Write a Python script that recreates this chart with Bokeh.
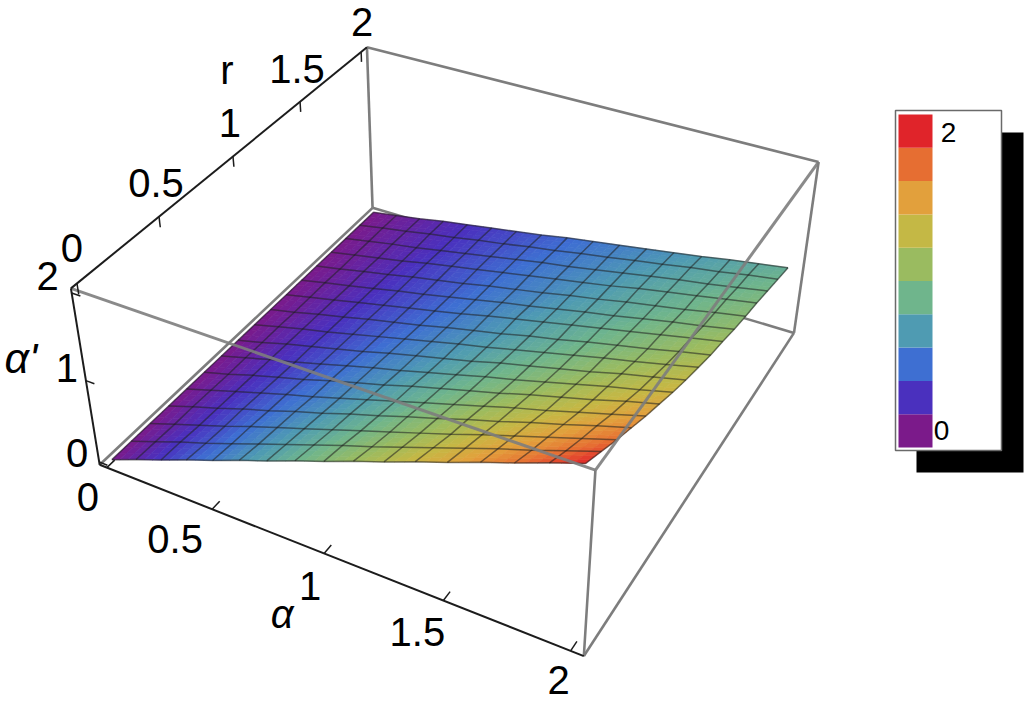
import numpy as np
from bokeh.plotting import figure
from bokeh.models import Range1d
from bokeh.core.properties import value
from bokeh.embed import file_html
from bokeh.resources import INLINE

# ---------- data ----------
alpha_nodes = [0, .125, .25, .375, .5, .625, .75, .875, 1, 1.125, 1.25, 1.375, 1.5, 1.625, 1.75, 1.875, 2]
r_nodes = [0, .125, .25, .375, .5, .625, .75, .875, 1, 1.125, 1.25, 1.375, 1.5, 1.625, 1.75, 1.875, 2]
# alpha' : one row per r node, one column per alpha node
alpha_prime = [
 [0,.13,.25,.38,.50,.63,.75,.88,1.00,1.13,1.25,1.38,1.50,1.63,1.75,1.88,2.00],
 [0,.12,.24,.35,.47,.59,.71,.83,.95,1.06,1.18,1.30,1.42,1.54,1.65,1.77,1.89],
 [0,.11,.22,.33,.45,.56,.67,.78,.89,1.00,1.11,1.22,1.34,1.45,1.56,1.67,1.78],
 [0,.11,.21,.32,.42,.53,.63,.74,.84,.95,1.05,1.16,1.26,1.37,1.47,1.58,1.68],
 [0,.10,.20,.30,.40,.49,.59,.69,.79,.89,.99,1.09,1.19,1.28,1.38,1.48,1.58],
 [0,.09,.19,.28,.37,.47,.56,.65,.75,.84,.93,1.02,1.12,1.21,1.30,1.40,1.49],
 [0,.09,.18,.26,.35,.44,.53,.61,.70,.79,.88,.96,1.05,1.14,1.23,1.31,1.40],
 [0,.08,.17,.25,.33,.41,.50,.58,.66,.74,.83,.91,.99,1.07,1.16,1.24,1.32],
 [0,.08,.16,.23,.31,.39,.47,.55,.63,.70,.78,.86,.94,1.02,1.09,1.17,1.25],
 [0,.07,.15,.22,.30,.37,.44,.52,.59,.66,.74,.81,.89,.96,1.03,1.11,1.18],
 [0,.07,.14,.21,.28,.35,.42,.49,.57,.64,.71,.78,.85,.92,.99,1.06,1.13],
 [0,.07,.13,.20,.27,.33,.40,.47,.54,.60,.67,.74,.80,.87,.94,1.00,1.07],
 [0,.06,.13,.19,.26,.32,.38,.45,.51,.57,.64,.70,.77,.83,.89,.96,1.02],
 [0,.06,.12,.18,.25,.31,.37,.43,.49,.55,.61,.67,.74,.80,.86,.92,.98],
 [0,.06,.12,.17,.23,.29,.35,.41,.47,.52,.58,.64,.70,.76,.81,.87,.93],
 [0,.06,.11,.17,.22,.28,.33,.39,.44,.50,.55,.61,.66,.72,.77,.83,.88],
 [0,.05,.10,.16,.21,.26,.31,.36,.42,.47,.52,.57,.62,.67,.73,.78,.83],
]
alpha_ticks = [0, .5, 1, 1.5, 2]
alpha_tick_labels = ["0", "0.5", "1", "1.5", "2"]
r_ticks = [0, .5, 1, 1.5, 2]
r_tick_labels = ["0", "0.5", "1", "1.5", "2"]
z_ticks = [0, 1, 2]
z_tick_labels = ["0", "1", "2"]
palette = ["#7B1A8A", "#4A30BE", "#3E6FD2", "#4F9BB2", "#6FB58C",
           "#9ABB60", "#C4B845", "#E2A03C", "#E66E32", "#E0242A"]
bar_labels = ["0", "2"]

# ---------- layout / camera ----------
LO, HI = -0.035, 2.05
CORNERS = [(LO,LO,LO),(HI,LO,LO),(HI,HI,LO),(LO,HI,LO),(LO,LO,HI),(HI,LO,HI),(HI,HI,HI),(LO,HI,HI)]
CAMERA_PX = [(98,463.5),(584,655),(793,334),(373,207),(71,289),(595,470),(818,160),(366,47)]
rows, rhs = [], []
for (x,y,z),(u,v) in zip(CORNERS, CAMERA_PX):
    rows.append([x,y,z,1,0,0,0,0,-u*x,-u*y,-u*z]); rhs.append(u)
    rows.append([0,0,0,0,x,y,z,1,-v*x,-v*y,-v*z]); rhs.append(v)
P = np.append(np.linalg.lstsq(np.array(rows,float), np.array(rhs,float), rcond=None)[0], 1).reshape(3,4)

def project(a, r, z):
    a, r, z = np.broadcast_arrays(np.asarray(a,float), np.asarray(r,float), np.asarray(z,float))
    h = P @ np.stack([a.ravel(), r.ravel(), z.ravel(), np.ones(a.size)])
    return (h[0]/h[2]).reshape(a.shape), (h[1]/h[2]).reshape(a.shape)

FS = "40px"
FONT = value("Liberation Sans")
GREY = "#7d7d7d"
AXIS = "#1c1c1c"

p = figure(width=1025, height=704, output_backend="svg", toolbar_location=None,
           x_range=Range1d(0, 1025), y_range=Range1d(704, 0),
           min_border=0, outline_line_color=None, background_fill_color="white")
p.axis.visible = False
p.grid.visible = False

def edge(c0, c1, color=GREY, width=2.6, alpha=1.0):
    xs, ys = project([CORNERS[c0][0], CORNERS[c1][0]], [CORNERS[c0][1], CORNERS[c1][1]], [CORNERS[c0][2], CORNERS[c1][2]])
    p.line(xs, ys, line_color=color, line_width=width, line_alpha=alpha)

# colour bar panel
p.quad(left=[916], right=[1023], top=[132], bottom=[472], fill_color="black", line_color=None)
p.quad(left=[895], right=[1001], top=[110], bottom=[450], fill_color="white", line_color="#6a6a6a", line_width=1.5)
BAR_TOP, BAR_BOTTOM = 114.0, 447.0
n = len(palette)
edges = [BAR_BOTTOM + (BAR_TOP-BAR_BOTTOM)*k/n for k in range(n+1)]
p.quad(left=[898]*n, right=[932]*n, bottom=edges[:-1], top=edges[1:], fill_color=palette, line_color=None)
p.text([941, 948], [430, 132], text=bar_labels, text_font=FONT, text_font_size="28px",
       text_align="center", text_baseline="middle", text_color="black")

# back edges of the box (behind the surface)
edge(3, 7); edge(0, 3); edge(3, 2); edge(7, 6)
edge(2, 6); edge(1, 2); edge(1, 5)

# surface
rgb = np.array([[int(c[k:k+2],16) for k in (1,3,5)] for c in palette], float)
def colour(z):
    t = np.clip(z/2.0, 0, 1)*(n-1)
    k = min(int(t), n-2); f = t-k
    v = rgb[k]*(1-f)+rgb[k+1]*f
    return "#%02x%02x%02x" % tuple(int(round(c)) for c in v)

A = np.array(alpha_nodes); R = np.array(r_nodes); Z = np.array(alpha_prime)
SUB = 3
xs, ys, cols = [], [], []
for j in range(len(R)-1):
    for i in range(len(A)-1):
        for sj in range(SUB):
            for si in range(SUB):
                u0, u1 = si/SUB, (si+1)/SUB
                v0, v1 = sj/SUB, (sj+1)/SUB
                uu = np.array([u0,u1,u1,u0]); vv = np.array([v0,v0,v1,v1])
                aa = A[i]+(A[i+1]-A[i])*uu
                rr = R[j]+(R[j+1]-R[j])*vv
                zz = (Z[j,i]*(1-uu)*(1-vv)+Z[j,i+1]*uu*(1-vv)+Z[j+1,i]*(1-uu)*vv+Z[j+1,i+1]*uu*vv)
                sx, sy = project(aa, rr, zz)
                xs.append(sx.tolist()); ys.append(sy.tolist()); cols.append(colour(zz.mean()))
p.patches(xs, ys, fill_color=cols, line_color=cols, line_width=0.7)

# mesh
mx, my = [], []
for j in range(len(R)):
    sx, sy = project(A, np.full(len(A), R[j]), Z[j,:])
    mx.append(sx.tolist()); my.append(sy.tolist())
for i in range(len(A)):
    sx, sy = project(np.full(len(R), A[i]), R, Z[:,i])
    mx.append(sx.tolist()); my.append(sy.tolist())
p.multi_line(mx, my, line_color="#1e1e1e", line_alpha=0.55, line_width=1.5)

# front edges over the surface
edge(4, 5, width=3.0, alpha=0.9); edge(5, 6, width=3.0, alpha=0.9)

# black axes
edge(4, 0, color=AXIS, width=2.0); edge(4, 7, color=AXIS, width=2.0); edge(0, 1, color=AXIS, width=2.0)

# ticks
tx, ty = [], []
for a in alpha_ticks:
    sx, sy = project([a, a], [LO, LO+0.05], [LO, LO]); tx.append(sx.tolist()); ty.append(sy.tolist())
for r in r_ticks:
    sx, sy = project([LO, LO], [r, r], [HI, HI-0.12]); tx.append(sx.tolist()); ty.append(sy.tolist())
for z in z_ticks:
    sx, sy = project([LO, LO+0.04], [LO, LO], [z, z]); tx.append(sx.tolist()); ty.append(sy.tolist())
p.multi_line(tx, ty, line_color=AXIS, line_width=1.5)

# tick labels, placed relative to their ticks
def labels(points, texts, offsets, size=FS, style="normal"):
    sx, sy = project(*np.array(points, float).T)
    p.text(sx+np.array([o[0] for o in offsets]), sy+np.array([o[1] for o in offsets]), text=texts,
           text_font=FONT, text_font_size=size, text_font_style=style, text_align="center",
           text_baseline="middle", text_color="black")

labels([(a, LO, LO) for a in alpha_ticks], alpha_tick_labels, [(-19,29),(-37,30),(-14,33),(-26,31),(-12,29)])
labels([(LO, r, HI) for r in r_ticks], r_tick_labels, [(-5,-35),(-3,-34),(-3,-33),(-3,-33),(1,-30)])
labels([(LO, LO, z) for z in z_ticks], z_tick_labels, [(-22,-9),(-19,-13),(-24,-17)])
# axis titles
labels([(1, LO, LO)], ["α"], [(-42,61)], style="italic")
labels([(LO, 1, HI)], ["r"], [(-6,-86)])
labels([(LO, LO, 1)], ["α'"], [(-65,-23)], size="43px", style="italic")

open("out.html", "w").write(file_html(p, INLINE))
